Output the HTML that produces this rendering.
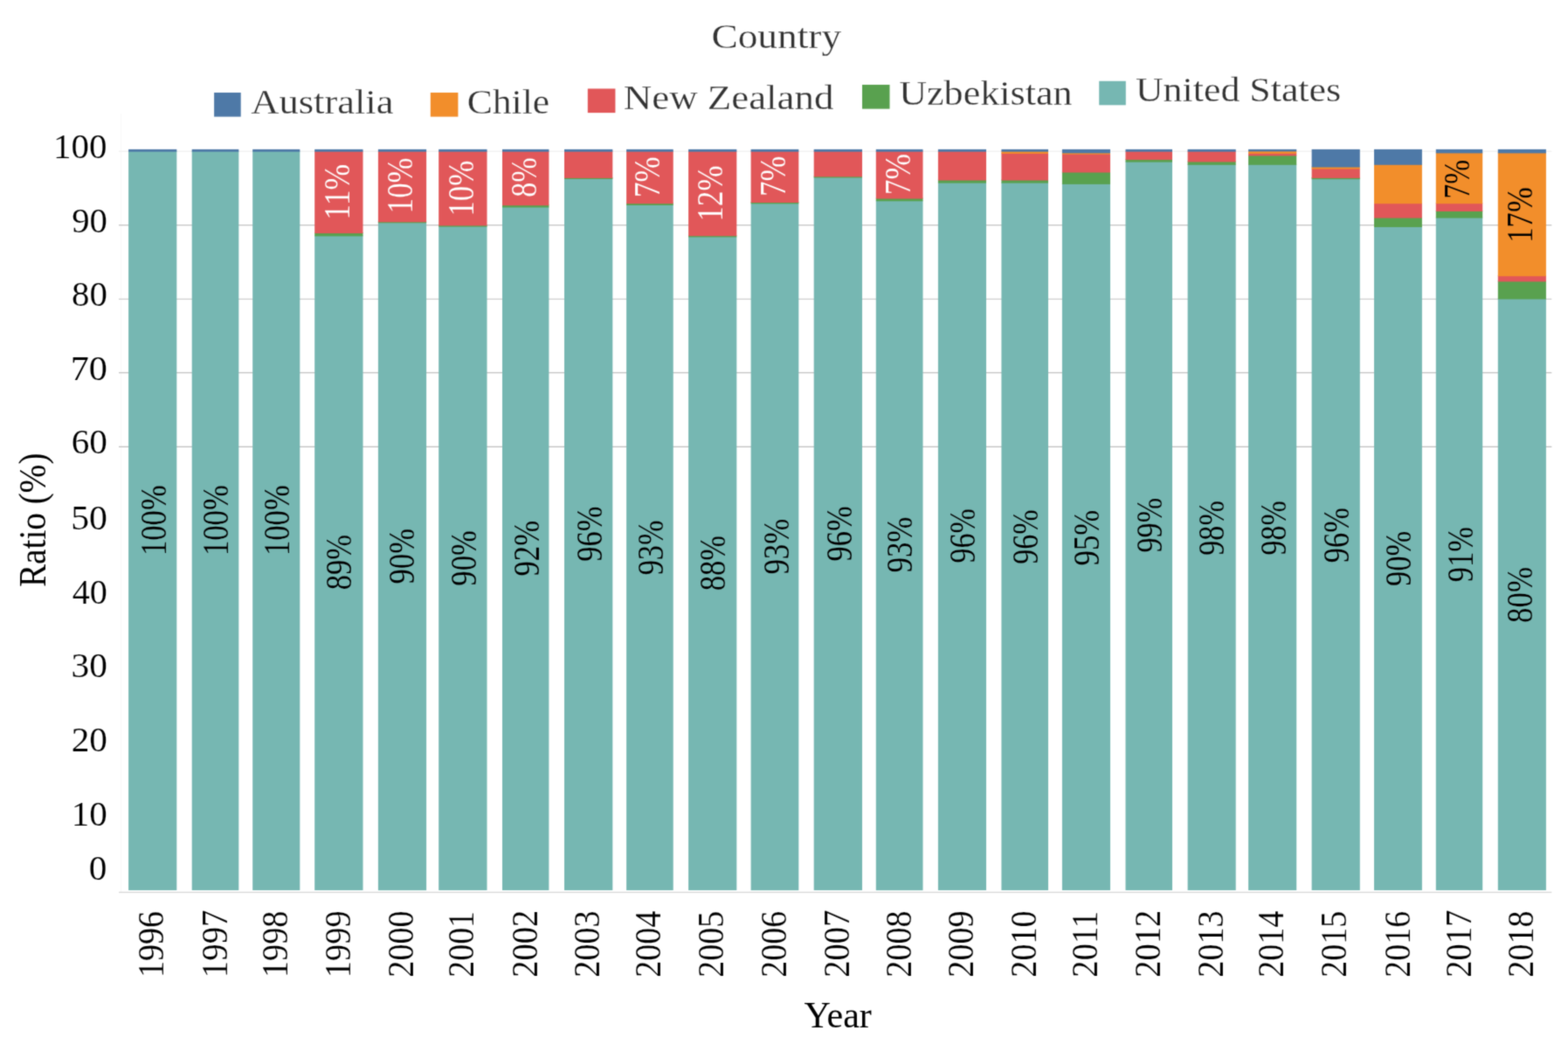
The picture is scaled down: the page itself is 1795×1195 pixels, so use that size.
<!DOCTYPE html>
<html lang="en">
<head>
<meta charset="utf-8">
<title>Ratio by Year and Country</title>
<style>
html,body{margin:0;padding:0;background:#fff;}
body{width:1795px;height:1195px;overflow:hidden;}
svg{display:block;}
text{font-family:'Liberation Serif', 'DejaVu Serif', serif;vector-effect:non-scaling-stroke;stroke-linejoin:round;}
</style>
</head>
<body>
<svg width="1795" height="1195" viewBox="0 0 1795 1195">
<defs>
<filter id="soft" x="0" y="0" width="1795" height="1195" filterUnits="userSpaceOnUse" color-interpolation-filters="sRGB">
<feConvolveMatrix order="3" kernelMatrix="1 4 1 4 16 4 1 4 1" divisor="36" edgeMode="duplicate" preserveAlpha="true"/>
</filter>
</defs>
<g id="chart" filter="url(#soft)">
<rect x="0" y="0" width="1795" height="1195" fill="#fff"/>
<g id="grid">
<rect x="138.2" y="130" width="1" height="892" fill="#f8f8f8"/>
<rect x="136" y="172.6" width="1640.3" height="1.2" fill="#efefef"/>
<rect x="136" y="257.05" width="1640.3" height="1.3" fill="#c4c4c4"/>
<rect x="136" y="341.75" width="1640.3" height="1.3" fill="#cfcfcf"/>
<rect x="136" y="425.95" width="1640.3" height="1.3" fill="#c3c3c3"/>
<rect x="136" y="510.75" width="1640.3" height="1.3" fill="#bfbfbf"/>
<rect x="136" y="1020.75" width="1640.3" height="1.3" fill="#d6d6d6"/>
</g>
<g id="legend">
<rect x="245.1" y="106.0" width="30.6" height="27.6" fill="#4e79a7"/>
<rect x="492.8" y="106.0" width="31.6" height="27.6" fill="#f28e2b"/>
<rect x="672.8" y="101.5" width="31.6" height="27.6" fill="#e15759"/>
<rect x="987.0" y="97.0" width="31.5" height="27.6" fill="#59a14f"/>
<rect x="1258.2" y="92.8" width="30.6" height="27.5" fill="#76b7b2"/>
</g>
<g id="bars">
<g><rect x="147.1" y="172.7" width="55.2" height="846.3" fill="#76b7b2"/><rect x="147.1" y="170.9" width="55.2" height="2.8" fill="#4e79a7"/></g>
<g><rect x="219.7" y="172.7" width="53.6" height="846.3" fill="#76b7b2"/><rect x="219.7" y="170.9" width="53.6" height="2.8" fill="#4e79a7"/></g>
<g><rect x="289.2" y="172.7" width="54.1" height="846.3" fill="#76b7b2"/><rect x="289.2" y="170.9" width="54.1" height="2.8" fill="#4e79a7"/></g>
<g><rect x="360.2" y="269.4" width="55.3" height="749.6" fill="#76b7b2"/><rect x="360.2" y="266.1" width="55.3" height="4.3" fill="#59a14f"/><rect x="360.2" y="172.7" width="55.3" height="94.4" fill="#e15759"/><rect x="360.2" y="170.9" width="55.3" height="2.8" fill="#4e79a7"/></g>
<g><rect x="432.9" y="254.3" width="55.2" height="764.8" fill="#76b7b2"/><rect x="432.9" y="253.3" width="55.2" height="2.0" fill="#59a14f"/><rect x="432.9" y="172.7" width="55.2" height="81.6" fill="#e15759"/><rect x="432.9" y="170.9" width="55.2" height="2.8" fill="#4e79a7"/></g>
<g><rect x="502.2" y="258.6" width="55.3" height="760.4" fill="#76b7b2"/><rect x="502.2" y="257.4" width="55.3" height="2.2" fill="#59a14f"/><rect x="502.2" y="172.7" width="55.3" height="85.7" fill="#e15759"/><rect x="502.2" y="170.9" width="55.3" height="2.8" fill="#4e79a7"/></g>
<g><rect x="575.0" y="236.5" width="53.4" height="782.5" fill="#76b7b2"/><rect x="575.0" y="234.2" width="53.4" height="3.3" fill="#59a14f"/><rect x="575.0" y="172.7" width="53.4" height="62.5" fill="#e15759"/><rect x="575.0" y="170.9" width="53.4" height="2.8" fill="#4e79a7"/></g>
<g><rect x="646.0" y="204.0" width="55.3" height="815.0" fill="#76b7b2"/><rect x="646.0" y="202.9" width="55.3" height="2.1" fill="#59a14f"/><rect x="646.0" y="172.7" width="55.3" height="31.2" fill="#e15759"/><rect x="646.0" y="170.9" width="55.3" height="2.8" fill="#4e79a7"/></g>
<g><rect x="717.1" y="234.0" width="53.6" height="785.0" fill="#76b7b2"/><rect x="717.1" y="232.2" width="53.6" height="2.8" fill="#59a14f"/><rect x="717.1" y="172.7" width="53.6" height="60.5" fill="#e15759"/><rect x="717.1" y="170.9" width="53.6" height="2.8" fill="#4e79a7"/></g>
<g><rect x="788.1" y="270.5" width="55.2" height="748.5" fill="#76b7b2"/><rect x="788.1" y="269.2" width="55.2" height="2.3" fill="#59a14f"/><rect x="788.1" y="172.7" width="55.2" height="97.5" fill="#e15759"/><rect x="788.1" y="170.9" width="55.2" height="2.8" fill="#4e79a7"/></g>
<g><rect x="859.6" y="232.3" width="54.7" height="786.8" fill="#76b7b2"/><rect x="859.6" y="231.0" width="54.7" height="2.3" fill="#59a14f"/><rect x="859.6" y="172.7" width="54.7" height="59.3" fill="#e15759"/><rect x="859.6" y="170.9" width="54.7" height="2.8" fill="#4e79a7"/></g>
<g><rect x="931.7" y="202.5" width="55.3" height="816.5" fill="#76b7b2"/><rect x="931.7" y="201.4" width="55.3" height="2.1" fill="#59a14f"/><rect x="931.7" y="172.7" width="55.3" height="29.7" fill="#e15759"/><rect x="931.7" y="170.9" width="55.3" height="2.8" fill="#4e79a7"/></g>
<g><rect x="1002.8" y="229.3" width="53.7" height="789.8" fill="#76b7b2"/><rect x="1002.8" y="226.5" width="53.7" height="3.8" fill="#59a14f"/><rect x="1002.8" y="172.7" width="53.7" height="54.8" fill="#e15759"/><rect x="1002.8" y="170.9" width="53.7" height="2.8" fill="#4e79a7"/></g>
<g><rect x="1073.9" y="208.6" width="55.1" height="810.4" fill="#76b7b2"/><rect x="1073.9" y="205.5" width="55.1" height="4.1" fill="#59a14f"/><rect x="1073.9" y="172.7" width="55.1" height="33.8" fill="#e15759"/><rect x="1073.9" y="170.9" width="55.1" height="2.8" fill="#4e79a7"/></g>
<g><rect x="1146.4" y="208.6" width="53.6" height="810.4" fill="#76b7b2"/><rect x="1146.4" y="205.5" width="53.6" height="4.1" fill="#59a14f"/><rect x="1146.4" y="174.9" width="53.6" height="31.6" fill="#e15759"/><rect x="1146.4" y="172.7" width="53.6" height="3.2" fill="#f28e2b"/><rect x="1146.4" y="170.9" width="53.6" height="2.8" fill="#4e79a7"/></g>
<g><rect x="1215.9" y="209.9" width="55.1" height="809.1" fill="#76b7b2"/><rect x="1215.9" y="196.5" width="55.1" height="14.4" fill="#59a14f"/><rect x="1215.9" y="175.7" width="55.1" height="21.8" fill="#e15759"/><rect x="1215.9" y="174.4" width="55.1" height="2.3" fill="#f28e2b"/><rect x="1215.9" y="170.9" width="55.1" height="4.5" fill="#4e79a7"/></g>
<g><rect x="1288.5" y="184.6" width="53.5" height="834.4" fill="#76b7b2"/><rect x="1288.5" y="181.9" width="53.5" height="3.7" fill="#59a14f"/><rect x="1288.5" y="172.7" width="53.5" height="10.2" fill="#e15759"/><rect x="1288.5" y="170.9" width="53.5" height="2.8" fill="#4e79a7"/></g>
<g><rect x="1359.6" y="187.8" width="55.1" height="831.2" fill="#76b7b2"/><rect x="1359.6" y="184.4" width="55.1" height="4.4" fill="#59a14f"/><rect x="1359.6" y="172.7" width="55.1" height="12.7" fill="#e15759"/><rect x="1359.6" y="170.9" width="55.1" height="2.8" fill="#4e79a7"/></g>
<g><rect x="1429.1" y="187.8" width="55.1" height="831.2" fill="#76b7b2"/><rect x="1429.1" y="177.4" width="55.1" height="11.4" fill="#59a14f"/><rect x="1429.1" y="174.9" width="55.1" height="3.5" fill="#e15759"/><rect x="1429.1" y="172.4" width="55.1" height="3.5" fill="#f28e2b"/><rect x="1429.1" y="170.9" width="55.1" height="2.5" fill="#4e79a7"/></g>
<g><rect x="1501.6" y="204.2" width="55.2" height="814.8" fill="#76b7b2"/><rect x="1501.6" y="202.9" width="55.2" height="2.3" fill="#59a14f"/><rect x="1501.6" y="192.5" width="55.2" height="11.4" fill="#e15759"/><rect x="1501.6" y="190.5" width="55.2" height="3.0" fill="#f28e2b"/><rect x="1501.6" y="170.9" width="55.2" height="20.6" fill="#4e79a7"/></g>
<g><rect x="1573.0" y="259.0" width="54.9" height="760.0" fill="#76b7b2"/><rect x="1573.0" y="248.6" width="54.9" height="11.4" fill="#59a14f"/><rect x="1573.0" y="232.2" width="54.9" height="17.4" fill="#e15759"/><rect x="1573.0" y="187.8" width="54.9" height="45.4" fill="#f28e2b"/><rect x="1573.0" y="170.9" width="54.9" height="17.9" fill="#4e79a7"/></g>
<g><rect x="1643.8" y="248.6" width="53.4" height="770.4" fill="#76b7b2"/><rect x="1643.8" y="241.0" width="53.4" height="8.6" fill="#59a14f"/><rect x="1643.8" y="232.2" width="53.4" height="9.8" fill="#e15759"/><rect x="1643.8" y="174.4" width="53.4" height="58.8" fill="#f28e2b"/><rect x="1643.8" y="170.9" width="53.4" height="4.5" fill="#4e79a7"/></g>
<g><rect x="1714.8" y="341.5" width="55.1" height="677.5" fill="#76b7b2"/><rect x="1714.8" y="321.4" width="55.1" height="21.1" fill="#59a14f"/><rect x="1714.8" y="315.2" width="55.1" height="7.2" fill="#e15759"/><rect x="1714.8" y="174.4" width="55.1" height="141.8" fill="#f28e2b"/><rect x="1714.8" y="170.9" width="55.1" height="4.5" fill="#4e79a7"/></g>
</g>
<g id="labels">
<text transform="translate(814.39 55.30) scale(1.1175 1)" font-size="40.6" fill="#333" stroke="#fff" stroke-width="0.30">Country</text>
<text transform="translate(287.25 129.60) scale(1.0999 1)" font-size="40.5" fill="#333" stroke="#fff" stroke-width="0.30">Australia</text>
<text transform="translate(534.66 129.60) scale(1.0769 1)" font-size="40.5" fill="#333" stroke="#fff" stroke-width="0.30">Chile</text>
<text transform="translate(713.85 124.80) scale(1.1086 1)" font-size="40.5" fill="#333" stroke="#fff" stroke-width="0.30">New Zealand</text>
<text transform="translate(1029.22 119.80) scale(1.0887 1)" font-size="40.5" fill="#333" stroke="#fff" stroke-width="0.30">Uzbekistan</text>
<text transform="translate(1299.92 115.80) scale(1.0834 1)" font-size="40.5" fill="#333" stroke="#fff" stroke-width="0.30">United States</text>
<text transform="translate(920.38 1176.20) scale(1.0210 1)" font-size="41.2" fill="#000" stroke="#fff" stroke-width="0.00">Year</text>
<text transform="translate(51.60 672.08) rotate(-90) scale(0.8919 1)" font-size="44.0" fill="#000" stroke="#fff" stroke-width="0.00">Ratio (%)</text>
<text transform="translate(61.05 180.70) scale(1.0242 1)" font-size="40.0" fill="#000" stroke="#fff" stroke-width="0.15">100</text>
<text transform="translate(82.14 265.60) scale(1.0188 1)" font-size="40.0" fill="#000" stroke="#fff" stroke-width="0.15">90</text>
<text transform="translate(82.00 350.10) scale(1.0225 1)" font-size="40.0" fill="#000" stroke="#fff" stroke-width="0.15">80</text>
<text transform="translate(80.68 434.70) scale(1.0567 1)" font-size="40.0" fill="#000" stroke="#fff" stroke-width="0.15">70</text>
<text transform="translate(81.71 519.10) scale(1.0299 1)" font-size="40.0" fill="#000" stroke="#fff" stroke-width="0.15">60</text>
<text transform="translate(81.13 606.20) scale(1.0450 1)" font-size="40.0" fill="#000" stroke="#fff" stroke-width="0.15">50</text>
<text transform="translate(82.70 690.80) scale(1.0044 1)" font-size="40.0" fill="#000" stroke="#fff" stroke-width="0.15">40</text>
<text transform="translate(81.57 775.40) scale(1.0336 1)" font-size="40.0" fill="#000" stroke="#fff" stroke-width="0.15">30</text>
<text transform="translate(81.71 860.00) scale(1.0299 1)" font-size="40.0" fill="#000" stroke="#fff" stroke-width="0.15">20</text>
<text transform="translate(81.84 944.60) scale(1.0266 1)" font-size="40.0" fill="#000" stroke="#fff" stroke-width="0.15">10</text>
<text transform="translate(101.79 1006.70) scale(1.0312 1)" font-size="40.0" fill="#000" stroke="#fff" stroke-width="0.15">0</text>
<text transform="translate(187.08 1119.10) rotate(-90) scale(0.9077 1)" font-size="42.0" fill="#000" stroke="#fff" stroke-width="0.15">1996</text>
<text transform="translate(259.58 1119.16) rotate(-90) scale(0.9241 1)" font-size="42.0" fill="#000" stroke="#fff" stroke-width="0.15">1997</text>
<text transform="translate(329.08 1119.12) rotate(-90) scale(0.9122 1)" font-size="42.0" fill="#000" stroke="#fff" stroke-width="0.15">1998</text>
<text transform="translate(401.08 1119.13) rotate(-90) scale(0.9138 1)" font-size="42.0" fill="#000" stroke="#fff" stroke-width="0.15">1999</text>
<text transform="translate(473.08 1118.65) rotate(-90) scale(0.9065 1)" font-size="42.0" fill="#000" stroke="#fff" stroke-width="0.15">2000</text>
<text transform="translate(542.38 1118.64) rotate(-90) scale(0.9013 1)" font-size="42.0" fill="#000" stroke="#fff" stroke-width="0.15">2001</text>
<text transform="translate(614.88 1118.67) rotate(-90) scale(0.9160 1)" font-size="42.0" fill="#000" stroke="#fff" stroke-width="0.15">2002</text>
<text transform="translate(686.38 1118.65) rotate(-90) scale(0.9081 1)" font-size="42.0" fill="#000" stroke="#fff" stroke-width="0.15">2003</text>
<text transform="translate(755.88 1118.65) rotate(-90) scale(0.9057 1)" font-size="42.0" fill="#000" stroke="#fff" stroke-width="0.15">2004</text>
<text transform="translate(827.88 1118.64) rotate(-90) scale(0.9019 1)" font-size="42.0" fill="#000" stroke="#fff" stroke-width="0.15">2005</text>
<text transform="translate(900.38 1118.64) rotate(-90) scale(0.9021 1)" font-size="42.0" fill="#000" stroke="#fff" stroke-width="0.15">2006</text>
<text transform="translate(971.88 1118.67) rotate(-90) scale(0.9182 1)" font-size="42.0" fill="#000" stroke="#fff" stroke-width="0.15">2007</text>
<text transform="translate(1042.58 1118.65) rotate(-90) scale(0.9065 1)" font-size="42.0" fill="#000" stroke="#fff" stroke-width="0.15">2008</text>
<text transform="translate(1114.08 1118.65) rotate(-90) scale(0.9081 1)" font-size="42.0" fill="#000" stroke="#fff" stroke-width="0.15">2009</text>
<text transform="translate(1186.08 1118.65) rotate(-90) scale(0.9065 1)" font-size="42.0" fill="#000" stroke="#fff" stroke-width="0.15">2010</text>
<text transform="translate(1255.68 1118.67) rotate(-90) scale(0.9191 1)" font-size="42.0" fill="#000" stroke="#fff" stroke-width="0.15">2011</text>
<text transform="translate(1328.48 1118.67) rotate(-90) scale(0.9160 1)" font-size="42.0" fill="#000" stroke="#fff" stroke-width="0.15">2012</text>
<text transform="translate(1400.08 1118.65) rotate(-90) scale(0.9081 1)" font-size="42.0" fill="#000" stroke="#fff" stroke-width="0.15">2013</text>
<text transform="translate(1469.08 1118.65) rotate(-90) scale(0.9057 1)" font-size="42.0" fill="#000" stroke="#fff" stroke-width="0.15">2014</text>
<text transform="translate(1541.38 1118.64) rotate(-90) scale(0.9019 1)" font-size="42.0" fill="#000" stroke="#fff" stroke-width="0.15">2015</text>
<text transform="translate(1614.08 1118.64) rotate(-90) scale(0.9021 1)" font-size="42.0" fill="#000" stroke="#fff" stroke-width="0.15">2016</text>
<text transform="translate(1683.68 1118.67) rotate(-90) scale(0.9182 1)" font-size="42.0" fill="#000" stroke="#fff" stroke-width="0.15">2017</text>
<text transform="translate(1755.18 1118.65) rotate(-90) scale(0.9065 1)" font-size="42.0" fill="#000" stroke="#fff" stroke-width="0.15">2018</text>
<text transform="translate(189.54 636.00) rotate(-90) scale(0.8240 1)" font-size="42.0" fill="#000" stroke="#76b7b2" stroke-width="0.15">100%</text>
<text transform="translate(260.54 636.10) rotate(-90) scale(0.8251 1)" font-size="42.0" fill="#000" stroke="#76b7b2" stroke-width="0.15">100%</text>
<text transform="translate(330.54 636.00) rotate(-90) scale(0.8240 1)" font-size="42.0" fill="#000" stroke="#76b7b2" stroke-width="0.15">100%</text>
<text transform="translate(402.14 675.26) rotate(-90) scale(0.8196 1)" font-size="42.0" fill="#000" stroke="#76b7b2" stroke-width="0.15">89%</text>
<text transform="translate(474.04 668.45) rotate(-90) scale(0.8248 1)" font-size="42.0" fill="#000" stroke="#76b7b2" stroke-width="0.15">90%</text>
<text transform="translate(544.84 670.65) rotate(-90) scale(0.8248 1)" font-size="42.0" fill="#000" stroke="#76b7b2" stroke-width="0.15">90%</text>
<text transform="translate(616.84 659.56) rotate(-90) scale(0.8261 1)" font-size="42.0" fill="#000" stroke="#76b7b2" stroke-width="0.15">92%</text>
<text transform="translate(688.84 642.85) rotate(-90) scale(0.8221 1)" font-size="42.0" fill="#000" stroke="#76b7b2" stroke-width="0.15">96%</text>
<text transform="translate(758.54 658.34) rotate(-90) scale(0.8167 1)" font-size="42.0" fill="#000" stroke="#76b7b2" stroke-width="0.15">93%</text>
<text transform="translate(830.14 676.37) rotate(-90) scale(0.8223 1)" font-size="42.0" fill="#000" stroke="#76b7b2" stroke-width="0.15">88%</text>
<text transform="translate(902.54 657.56) rotate(-90) scale(0.8288 1)" font-size="42.0" fill="#000" stroke="#76b7b2" stroke-width="0.15">93%</text>
<text transform="translate(974.54 642.45) rotate(-90) scale(0.8221 1)" font-size="42.0" fill="#000" stroke="#76b7b2" stroke-width="0.15">96%</text>
<text transform="translate(1044.04 655.56) rotate(-90) scale(0.8315 1)" font-size="42.0" fill="#000" stroke="#76b7b2" stroke-width="0.15">93%</text>
<text transform="translate(1115.54 644.43) rotate(-90) scale(0.8100 1)" font-size="42.0" fill="#000" stroke="#76b7b2" stroke-width="0.15">96%</text>
<text transform="translate(1188.04 645.84) rotate(-90) scale(0.8127 1)" font-size="42.0" fill="#000" stroke="#76b7b2" stroke-width="0.15">96%</text>
<text transform="translate(1257.54 647.46) rotate(-90) scale(0.8275 1)" font-size="42.0" fill="#000" stroke="#76b7b2" stroke-width="0.15">95%</text>
<text transform="translate(1329.54 632.44) rotate(-90) scale(0.8127 1)" font-size="42.0" fill="#000" stroke="#76b7b2" stroke-width="0.15">99%</text>
<text transform="translate(1401.04 635.74) rotate(-90) scale(0.8127 1)" font-size="42.0" fill="#000" stroke="#76b7b2" stroke-width="0.15">98%</text>
<text transform="translate(1472.14 635.43) rotate(-90) scale(0.8086 1)" font-size="42.0" fill="#000" stroke="#76b7b2" stroke-width="0.15">98%</text>
<text transform="translate(1543.94 644.15) rotate(-90) scale(0.8221 1)" font-size="42.0" fill="#000" stroke="#76b7b2" stroke-width="0.15">96%</text>
<text transform="translate(1615.14 670.95) rotate(-90) scale(0.8221 1)" font-size="42.0" fill="#000" stroke="#76b7b2" stroke-width="0.15">90%</text>
<text transform="translate(1685.54 666.25) rotate(-90) scale(0.8221 1)" font-size="42.0" fill="#000" stroke="#76b7b2" stroke-width="0.15">91%</text>
<text transform="translate(1754.44 712.88) rotate(-90) scale(0.8291 1)" font-size="42.0" fill="#000" stroke="#76b7b2" stroke-width="0.15">80%</text>
<text transform="translate(399.84 251.79) rotate(-90) scale(0.8492 1)" font-size="42.0" fill="#fff" stroke="#e15759" stroke-width="0.15">11%</text>
<text transform="translate(472.04 244.20) rotate(-90) scale(0.8255 1)" font-size="42.0" fill="#fff" stroke="#e15759" stroke-width="0.15">10%</text>
<text transform="translate(541.54 247.62) rotate(-90) scale(0.8310 1)" font-size="42.0" fill="#fff" stroke="#e15759" stroke-width="0.15">10%</text>
<text transform="translate(613.54 225.75) rotate(-90) scale(0.8123 1)" font-size="42.0" fill="#fff" stroke="#e15759" stroke-width="0.15">8%</text>
<text transform="translate(755.24 226.03) rotate(-90) scale(0.8320 1)" font-size="42.0" fill="#fff" stroke="#e15759" stroke-width="0.15">7%</text>
<text transform="translate(827.24 253.42) rotate(-90) scale(0.8310 1)" font-size="42.0" fill="#fff" stroke="#e15759" stroke-width="0.15">12%</text>
<text transform="translate(899.24 224.81) rotate(-90) scale(0.8243 1)" font-size="42.0" fill="#fff" stroke="#e15759" stroke-width="0.15">7%</text>
<text transform="translate(1041.94 223.16) rotate(-90) scale(0.8417 1)" font-size="42.0" fill="#fff" stroke="#e15759" stroke-width="0.15">7%</text>
<text transform="translate(1682.14 227.54) rotate(-90) scale(0.7992 1)" font-size="42.0" fill="#000" stroke="#f28e2b" stroke-width="0.15">7%</text>
<text transform="translate(1754.44 277.70) rotate(-90) scale(0.8241 1)" font-size="42.0" fill="#000" stroke="#f28e2b" stroke-width="0.15">17%</text>
</g>
</g>
</svg>
</body>
</html>
